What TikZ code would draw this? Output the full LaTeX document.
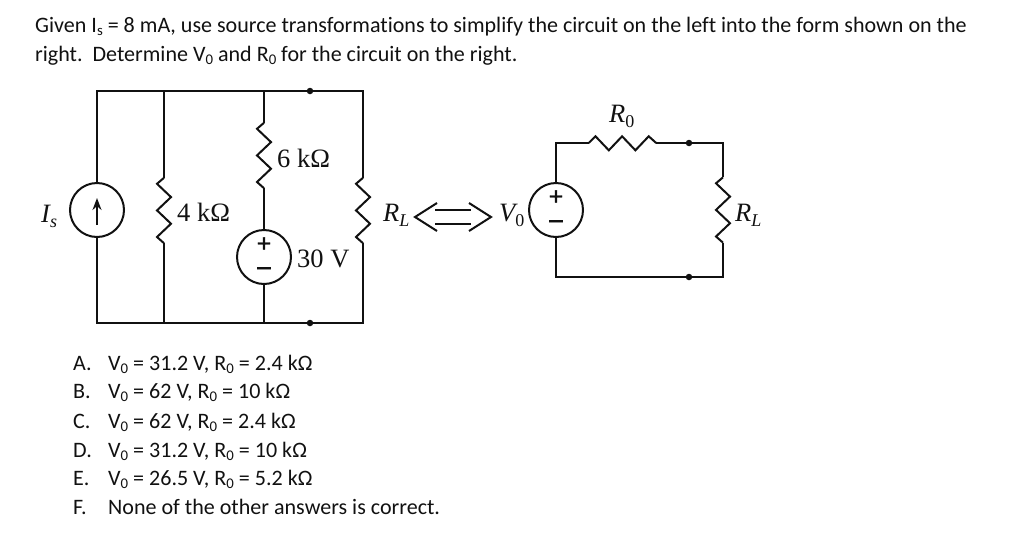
\documentclass[tikz,border=0pt]{standalone}
\usepackage{fontspec}
\usetikzlibrary{arrows.meta}
\setmainfont{Carlito}[Ligatures=NoCommon]
\newfontfamily\cktfont{Liberation Serif}
\newfontfamily\signfont[FakeBold=1.2]{Liberation Sans}
\definecolor{ink}{HTML}{111111}
\definecolor{txt}{HTML}{111111}
\newcommand{\subz}[1]{\raisebox{-0.12em}{\fontsize{14.8}{15}\selectfont #1}}
\newcommand{\vz}{V\subz{0}}
\newcommand{\rz}{R\subz{0}}
\newcommand{\ckti}[2]{{\fontsize{26.5}{27}\selectfont\cktfont\itshape #1\raisebox{-0.22em}{\fontsize{18}{19}\selectfont #2}}}
\newcommand{\cktu}[1]{{\fontsize{26.5}{27}\selectfont\cktfont #1}}
\newcommand{\sgn}[2]{{\fontsize{#1}{#1}\selectfont\signfont\smash{\raisebox{-0.25em}{#2}}}}
% zig-zags run from one anchor of an invisible box to the other
\newcommand{\vzig}[1]{\draw[wire] (#1.north) -- ++(-7,6) -- ++(14,13.3) -- ++(-14,13.3) -- ++(14,13.3) -- ++(-14,13.3) -- (#1.south);}
\newcommand{\hzig}[1]{\draw[wire] (#1.west) -- ++(6.7,-6.7) -- ++(13.3,14) -- ++(13.3,-14) -- ++(13.3,14) -- ++(13.3,-14) -- (#1.east);}
\tikzset{
  wire/.style={draw=ink,line width=2pt,line join=miter},
  srcnode/.style={circle,draw=ink,line width=2pt,minimum size=54pt,inner sep=0pt},
  dotnode/.style={circle,fill=ink,minimum size=6.5pt,inner sep=0pt},
  vbox/.style={minimum width=14pt,minimum height=65pt,inner sep=0pt},
  hbox/.style={minimum width=67pt,minimum height=14pt,inner sep=0pt},
  lbl/.style={anchor=base west,inner sep=0pt,text=txt},
  para/.style={anchor=base west,inner sep=0pt,text=txt,font=\fontsize{22.05}{23}\selectfont},
  signnode/.style={inner sep=0pt,text=ink}
}
\begin{document}
\begin{tikzpicture}[x=1pt,y=-1pt]
\useasboundingbox (0,0) rectangle (1024,552);
% text
\node[para] (l1) at (35,32.5) {Given I\subz{s} = 8 mA, use source transformations to simplify the circuit on the left into the form shown on the};
\node[para] (l2) at (35,61.5) {right.\ \ Determine \vz{} and \rz{} for the circuit on the right.};
\node[para] (a) at (73,370.5) {A.};
\node[para] (b) at (73,398.5) {B.};
\node[para] (c) at (73,428.5) {C.};
\node[para] (d) at (73,457.5) {D.};
\node[para] (e) at (73,485.5) {E.};
\node[para] (f) at (73,514.5) {F.};
\node[para] (at) at (108,370.5) {\vz{} = 31.2 V, \rz{} = 2.4 kΩ};
\node[para] (bt) at (108,398.5) {\vz{} = 62 V, \rz{} = 10 kΩ};
\node[para] (ct) at (108,428.5) {\vz{} = 62 V, \rz{} = 2.4 kΩ};
\node[para] (dt) at (108,457.5) {\vz{} = 31.2 V, \rz{} = 10 kΩ};
\node[para] (et) at (108,485.5) {\vz{} = 26.5 V, \rz{} = 5.2 kΩ};
\node[para] (ft) at (108,514.5) {None of the other answers is correct.};
% left circuit
\coordinate (tl) at (97,91);
\coordinate (t2) at (164,91);
\coordinate (t3) at (264,91);
\node[dotnode] (d1) at (310,91) {};
\coordinate (tr) at (363,91);
\coordinate (bl) at (97,323);
\coordinate (b2) at (164,323);
\coordinate (b3) at (264,323);
\node[dotnode] (d2) at (310,323) {};
\coordinate (br) at (363,323);
\node[srcnode] (is) at (97,210) {};
\node[srcnode] (vs) at (264,257) {};
\node[vbox] (r4) at (164,210.5) {};
\node[vbox] (r6) at (264,155.5) {};
\node[vbox] (rl) at (363,210.5) {};
\vzig{r4}\vzig{r6}\vzig{rl}
\draw[wire] (is.north) -- (tl) -- (t2) -- (t3) -- (d1) -- (tr) -- (rl.north);
\draw[wire] (is.south) -- (bl) -- (b2) -- (b3) -- (d2) -- (br) -- (rl.south);
\draw[wire] (t2) -- (r4.north);
\draw[wire] (r4.south) -- (b2);
\draw[wire] (t3) -- (r6.north);
\draw[wire] (r6.south) -- (vs.north);
\draw[wire] (vs.south) -- (b3);
\coordinate (ia) at (97,225);
\coordinate (ib) at (97,198);
\draw[ink,line width=1.7pt,-{Stealth[length=12pt,width=9pt]}] (ia) -- (ib);
\node[signnode] (vp) at (264,245.5) {\sgn{25}{+}};
\node[signnode] (vm) at (264,270.5) {\sgn{28}{−}};
\node[lbl] (il) at (41,222) {\ckti{I}{s}};
\node[lbl] (l4) at (177,221) {\cktu{4 kΩ}};
\node[lbl] (l6) at (277,167) {\cktu{6 kΩ}};
\node[lbl] (l30) at (297,267) {\cktu{30 V}};
\node[lbl] (lrl) at (383,221) {\ckti{R}{L}};
% equivalence arrow
\coordinate (ea) at (415,217);
\coordinate (eb) at (491,217);
\coordinate (ea1) at (437,203);
\coordinate (ea2) at (437,231);
\coordinate (eb1) at (469,203);
\coordinate (eb2) at (469,231);
\coordinate (u1) at (435,210);
\coordinate (u2) at (471,210);
\coordinate (w1) at (435,224);
\coordinate (w2) at (471,224);
\draw[wire] (ea1) -- (ea) -- (ea2);
\draw[wire] (eb1) -- (eb) -- (eb2);
\draw[wire] (u1) -- (u2);
\draw[wire] (w1) -- (w2);
% right circuit
\node[srcnode] (v0) at (556,210) {};
\coordinate (c1) at (556,143);
\node[hbox] (r0) at (622.5,143) {};
\node[dotnode] (d3) at (689,143) {};
\coordinate (c2) at (723,143);
\node[vbox] (rr) at (723,210) {};
\coordinate (c3) at (723,277);
\node[dotnode] (d4) at (689,277) {};
\coordinate (c4) at (556,277);
\hzig{r0}\vzig{rr}
\draw[wire] (v0.north) -- (c1) -- (r0.west);
\draw[wire] (r0.east) -- (d3) -- (c2) -- (rr.north);
\draw[wire] (rr.south) -- (c3) -- (d4) -- (c4) -- (v0.south);
\node[signnode] (v0p) at (556,198.5) {\sgn{25}{+}};
\node[signnode] (v0m) at (556,223.5) {\sgn{28}{−}};
\node[lbl] (lr0) at (609,122) {\ckti{R}{\upshape 0}};
\node[lbl] (lv0) at (499,221) {\ckti{V}{\upshape 0}};
\node[lbl] (lrr) at (735,221) {\ckti{R}{L}};
\end{tikzpicture}
\end{document}
